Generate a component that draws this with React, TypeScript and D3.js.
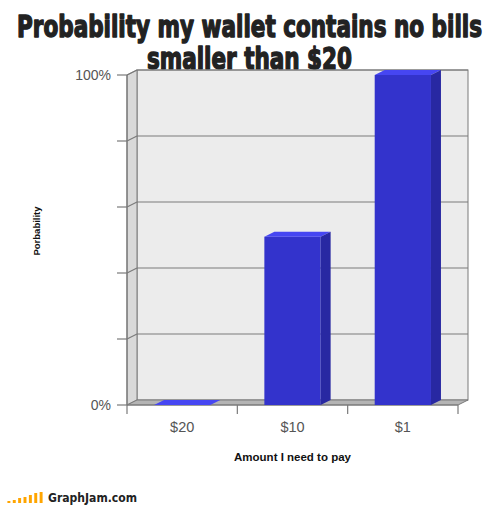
import * as d3 from 'd3'

const titleLines = ['Probability my wallet contains no bills', 'smaller than $20']
const categories = ['$20', '$10', '$1']
const probabilities = [0, 51, 100]
const yTicks = [0, 20, 40, 60, 80, 100]
const yTickLabels = ['0%', '', '', '', '', '100%']
const xTitle = 'Amount I need to pay'
const yTitle = 'Porbability'
const logoBars = [2, 3, 5, 6, 8, 10, 11]
const logoText = 'GraphJam.com'

const W = 500
const H = 505
const margin = { top: 75, right: 42, bottom: 100, left: 127 }
const depth = { dx: 10, dy: 5 }

export default function App() {
  const x = d3
    .scaleBand<string>()
    .domain(categories)
    .range([margin.left, W - margin.right])
    .padding(0)

  const y = d3
    .scaleLinear()
    .domain([0, 100])
    .range([H - margin.bottom, margin.top])

  const x0 = margin.left
  const x1 = W - margin.right
  const y0 = y(0)
  const yTop = y(100)
  const { dx, dy } = depth

  const barW = x.bandwidth() * 0.51
  const gridColor = '#7a7a7a'

  const poly = (pts: [number, number][]) => pts.map(p => p.join(',')).join(' ')

  // little orange logo bars
  const logoX = d3.scaleBand<number>().domain(d3.range(logoBars.length)).range([5, 45]).padding(0.45)

  // the title font is narrow and tall, so draw it smaller and stretch it up
  const titleSize = 22
  const titleStretch = 1.36

  return (
    <svg
      width={W}
      height={H}
      style={{ position: 'absolute', left: 0, top: 0, background: '#fff' }}
    >
      {/* title */}
      <g fill="#222" stroke="#222" strokeWidth={1} strokeLinejoin="round" fontFamily="'DejaVu Sans Condensed', 'Liberation Sans Narrow', sans-serif" fontWeight="bold" fontSize={titleSize}>
        <text transform={`translate(17,37) scale(1,${titleStretch})`} textLength={465} lengthAdjust="spacingAndGlyphs">{titleLines[0]}</text>
        <text transform={`translate(147,69) scale(1,${titleStretch})`} textLength={205} lengthAdjust="spacingAndGlyphs">{titleLines[1]}</text>
      </g>

      {/* back wall */}
      <rect x={x0 + dx} y={yTop - dy} width={x1 - x0} height={y0 - yTop} fill="#ececec" stroke={gridColor} strokeWidth={1} />
      {/* side wall */}
      <polygon points={poly([[x0, yTop], [x0 + dx, yTop - dy], [x0 + dx, y0 - dy], [x0, y0]])} fill="#d9d9d9" stroke={gridColor} strokeWidth={1} />
      {/* floor */}
      <polygon points={poly([[x0, y0], [x0 + dx, y0 - dy], [x1 + dx, y0 - dy], [x1, y0]])} fill="#b4b4b4" stroke={gridColor} strokeWidth={1} />

      {/* gridlines */}
      {yTicks.filter(t => t > 0).map(t => (
        <g key={t} stroke={gridColor} strokeWidth={1.2}>
          <line x1={x0} y1={y(t)} x2={x0 + dx} y2={y(t) - dy} />
          <line x1={x0 + dx} y1={y(t) - dy} x2={x1 + dx} y2={y(t) - dy} />
        </g>
      ))}

      {/* y axis */}
      <line x1={x0} y1={yTop} x2={x0} y2={y0} stroke={gridColor} strokeWidth={1.2} />
      {yTicks.map((t, i) => (
        <g key={t}>
          <line x1={x0 - 10} y1={y(t)} x2={x0} y2={y(t)} stroke={gridColor} strokeWidth={1.2} />
          {yTickLabels[i] && (
            <text x={x0 - 16} y={y(t)} dy="0.35em" textAnchor="end" fontFamily="'Liberation Sans', Arial, sans-serif" fontSize={14} fill="#555">
              {yTickLabels[i]}
            </text>
          )}
        </g>
      ))}

      {/* x axis */}
      <line x1={x0} y1={y0} x2={x1} y2={y0} stroke={gridColor} strokeWidth={1.2} />
      {[...categories.map(c => x(c) as number), x1].map((px, i) => (
        <line key={i} x1={px} y1={y0} x2={px} y2={y0 + 9} stroke={gridColor} strokeWidth={1.2} />
      ))}
      {categories.map(c => (
        <text key={c} x={(x(c) as number) + x.bandwidth() / 2} y={427} dy="0.35em" textAnchor="middle" fontFamily="'Liberation Sans', Arial, sans-serif" fontSize={14.5} fill="#555">
          {c}
        </text>
      ))}

      {/* bars */}
      {categories.map((c, i) => {
        const cx = (x(c) as number) + x.bandwidth() / 2
        const bx = cx - barW / 2
        const by = y(probabilities[i])
        return (
          <g key={c}>
            <rect x={bx} y={by} width={barW} height={y0 - by} fill="#3333cc" />
            <polygon points={poly([[bx, by], [bx + dx, by - dy], [bx + barW + dx, by - dy], [bx + barW, by]])} fill="#4646f2" />
            <polygon points={poly([[bx + barW, by], [bx + barW + dx, by - dy], [bx + barW + dx, y0 - dy], [bx + barW, y0]])} fill="#2828a2" />
          </g>
        )
      })}

      {/* axis titles */}
      <text x={(x0 + x1) / 2} y={457} dy="0.35em" textAnchor="middle" fontFamily="'Liberation Sans', Arial, sans-serif" fontWeight="bold" fontSize={11.5} fill="#111">
        {xTitle}
      </text>
      <text transform={`translate(40,231) rotate(-90)`} textAnchor="middle" fontFamily="'Liberation Sans', Arial, sans-serif" fontWeight="bold" fontSize={9.5} fill="#111">
        {yTitle}
      </text>

      {/* logo */}
      {logoBars.map((h, i) => (
        <rect key={i} x={logoX(i)} y={503 - h} width={logoX.bandwidth()} height={h} fill="#ffa500" />
      ))}
      <text x={48} y={502} fontFamily="'DejaVu Sans', Verdana, sans-serif" fontWeight="bold" fontSize={11.5} fill="#222" textLength={89} lengthAdjust="spacingAndGlyphs">
        {logoText}
      </text>
    </svg>
  )
}
